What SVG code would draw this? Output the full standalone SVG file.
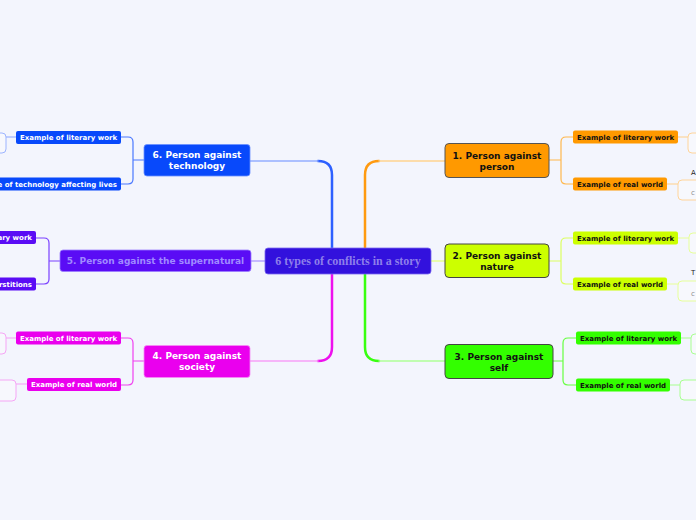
<svg xmlns="http://www.w3.org/2000/svg" width="696" height="520" viewBox="0 0 696 520">
<style>
.bg{fill:#f3f5fd}
.nt{font-family:"DejaVu Sans",Verdana,sans-serif;font-weight:bold;font-size:9px;text-anchor:middle}
.ct{font-family:"DejaVu Sans",Verdana,sans-serif;font-weight:bold;font-size:7px;text-anchor:middle}
.ce{font-family:"DejaVu Sans",Verdana,sans-serif;font-weight:bold;font-size:7px;text-anchor:end}
.gt{font-family:"DejaVu Sans",Verdana,sans-serif;font-size:7px}
.w{fill:#ffffff}
.k{fill:#111111}
.conn path{fill:none;stroke-linecap:round;stroke-linejoin:round}
.thick{stroke-width:2.5}
.thin{stroke-width:1.3}
.br{stroke-width:1.2}
.gb{fill:#f7f8fd;stroke-width:1}
</style>
<rect class="bg" x="0" y="0" width="696" height="520"/>

<g id="connectors" class="conn">
  <!-- central to main nodes -->
  <path class="thick" stroke="#2d60ff" d="M332,248 V175 Q332,161 318,161"/>
  <path class="thin" stroke="#95aeff" d="M318,161 H250"/>
  <path class="thick" stroke="#ff9a10" d="M365,248 V175 Q365,161 379,161"/>
  <path class="thin" stroke="#ffd390" d="M379,161 H445"/>
  <path class="thick" stroke="#ee10ee" d="M332,274 V347 Q332,361 318,361"/>
  <path class="thin" stroke="#f7a0f7" d="M318,361 H250"/>
  <path class="thick" stroke="#38ff10" d="M365,274 V347 Q365,361 379,361"/>
  <path class="thin" stroke="#b0ff98" d="M379,361 H445"/>
  <path class="thin" stroke="#e8ff90" d="M431,261 H445"/>
  <path class="thin" stroke="#b8a6ff" d="M265,261 H251"/>

  <!-- node 1 children -->
  <path class="br" stroke="#ffb84d" d="M549,160 H561 M573,137 H566 Q561,137 561,142 V179 Q561,184 566,184 H573"/>
  <path class="br" stroke="#ffcf8a" d="M678,137 H688 M667,184 H678"/>
  <!-- node 2 children -->
  <path class="br" stroke="#dcff60" d="M549,261 H561 M573,238 H566 Q561,238 561,243 V279 Q561,284 566,284 H573"/>
  <path class="br" stroke="#e8ff98" d="M678,238 H689 M667,284 H678"/>
  <!-- node 3 children -->
  <path class="br" stroke="#66ff40" d="M553,361 H563 M576,338 H568 Q563,338 563,343 V380 Q563,385 568,385 H576"/>
  <path class="br" stroke="#a8ff90" d="M681,338 H691 M670,385 H680"/>
  <!-- node 6 children -->
  <path class="br" stroke="#4a78ff" d="M144,160 H133 M121,137 H128 Q133,137 133,142 V179 Q133,184 128,184 H121"/>
  <path class="br" stroke="#8aa6ff" d="M16,137 H6"/>
  <!-- node 5 children -->
  <path class="br" stroke="#7a40ff" d="M60,261 H49 M36,238 H44 Q49,238 49,243 V279 Q49,284 44,284 H36"/>
  <!-- node 4 children -->
  <path class="br" stroke="#f040f0" d="M144,361 H133 M121,338 H128 Q133,338 133,343 V380 Q133,385 128,385 H121"/>
  <path class="br" stroke="#f5a0f5" d="M16,338 H6 M27,384 H16"/>
</g>

<g id="central">
  <rect x="265" y="248" width="166" height="26" rx="3" fill="#3211dd" stroke="#7a68f0" stroke-width="0.8"/>
  <text x="348" y="265" font-family="'Liberation Serif','Times New Roman',serif" font-weight="bold" font-size="12" fill="#8e7fea" text-anchor="middle">6 types of conflicts in a story</text>
</g>

<g id="node1">
  <rect x="445" y="143.5" width="104" height="34" rx="4" fill="#ff9900" stroke="#555555" stroke-width="1"/>
  <text class="nt k" x="497" y="158.5">1. Person against</text>
  <text class="nt k" x="497" y="169.5">person</text>
</g>
<g id="node1-lit">
  <rect x="573" y="130.5" width="105" height="13" rx="2" fill="#ff9900"/>
  <text class="ct k" x="625.5" y="139.5">Example of literary work</text>
</g>
<g id="node1-real">
  <rect x="573" y="177.5" width="94" height="13" rx="2" fill="#ff9900"/>
  <text class="ct k" x="620" y="186.5">Example of real world</text>
</g>
<g id="node1-lit-sub"><rect class="gb" x="688" y="133" width="30" height="20" rx="4" stroke="#ffd49a"/></g>
<g id="node1-real-sub">
  <text class="gt" x="691" y="175" fill="#222222">A</text>
  <rect class="gb" x="678" y="180" width="40" height="20" rx="4" stroke="#ffd49a"/>
  <text class="gt" x="691" y="195" fill="#888888">c</text>
</g>

<g id="node2">
  <rect x="445" y="244" width="104" height="33.5" rx="4" fill="#ccff00" stroke="#444444" stroke-width="1"/>
  <text class="nt k" x="497" y="259">2. Person against</text>
  <text class="nt k" x="497" y="270">nature</text>
</g>
<g id="node2-lit">
  <rect x="573" y="231.5" width="105" height="13" rx="2" fill="#ccff00"/>
  <text class="ct k" x="625.5" y="240.5">Example of literary work</text>
</g>
<g id="node2-real">
  <rect x="573" y="277.5" width="94" height="13" rx="2" fill="#ccff00"/>
  <text class="ct k" x="620" y="286.5">Example of real world</text>
</g>
<g id="node2-lit-sub"><rect class="gb" x="689" y="233" width="30" height="20" rx="4" stroke="#e6ff9a"/></g>
<g id="node2-real-sub">
  <text class="gt" x="691" y="275" fill="#222222">T</text>
  <rect class="gb" x="678" y="281" width="40" height="20" rx="4" stroke="#e6ff9a"/>
  <text class="gt" x="691" y="296" fill="#888888">c</text>
</g>

<g id="node3">
  <rect x="445" y="344.5" width="108" height="34" rx="4" fill="#33ff00" stroke="#444444" stroke-width="1"/>
  <text class="nt k" x="499" y="359.5">3. Person against</text>
  <text class="nt k" x="499" y="370.5">self</text>
</g>
<g id="node3-lit">
  <rect x="576" y="331.5" width="105" height="13" rx="2" fill="#33ff00"/>
  <text class="ct k" x="628.5" y="340.5">Example of literary work</text>
</g>
<g id="node3-real">
  <rect x="576" y="378.5" width="94" height="13" rx="2" fill="#33ff00"/>
  <text class="ct k" x="623" y="387.5">Example of real world</text>
</g>
<g id="node3-lit-sub"><rect class="gb" x="691" y="334" width="30" height="20" rx="4" stroke="#a8ff90"/></g>
<g id="node3-real-sub"><rect class="gb" x="680" y="380" width="40" height="20" rx="4" stroke="#a8ff90"/></g>

<g id="node6">
  <rect x="144" y="144.5" width="106" height="31.5" rx="3" fill="#0849fb" stroke="#6a90ff" stroke-width="0.8"/>
  <text class="nt w" x="197" y="158">6. Person against</text>
  <text class="nt w" x="197" y="169">technology</text>
</g>
<g id="node6-lit">
  <rect x="16" y="131" width="105" height="13" rx="2" fill="#0849fb"/>
  <text class="ct w" x="68.5" y="140">Example of literary work</text>
</g>
<g id="node6-tech">
  <rect x="-60" y="177.5" width="181" height="13" rx="2" fill="#0849fb"/>
  <text class="ce w" x="117" y="186.5">Example of technology affecting lives</text>
</g>
<g id="node6-lit-sub"><rect class="gb" x="-24" y="133" width="30" height="20" rx="4" stroke="#9cb4ff"/></g>

<g id="node5">
  <rect x="60" y="250" width="191" height="21.5" rx="3" fill="#5a0cf5" stroke="#9a7cff" stroke-width="0.8"/>
  <text class="nt" x="155.5" y="264.3" fill="#a08aff">5. Person against the supernatural</text>
</g>
<g id="node5-lit">
  <rect x="-80" y="231" width="116" height="13" rx="2" fill="#5a0cf5"/>
  <text class="ce w" x="32" y="240">Example of literary work</text>
</g>
<g id="node5-sup">
  <rect x="-80" y="277.5" width="116" height="13" rx="2" fill="#5a0cf5"/>
  <text class="ce w" x="32" y="286.5">Example of superstitions</text>
</g>

<g id="node4">
  <rect x="144" y="345.5" width="106" height="32" rx="3" fill="#ea00ee" stroke="#f58cf5" stroke-width="0.8"/>
  <text class="nt w" x="197" y="359">4. Person against</text>
  <text class="nt w" x="197" y="370">society</text>
</g>
<g id="node4-lit">
  <rect x="16" y="331.5" width="105" height="13" rx="2" fill="#ea00ee"/>
  <text class="ct w" x="68.5" y="340.5">Example of literary work</text>
</g>
<g id="node4-real">
  <rect x="27" y="378" width="94" height="13" rx="2" fill="#ea00ee"/>
  <text class="ct w" x="74" y="387">Example of real world</text>
</g>
<g id="node4-lit-sub"><rect class="gb" x="-24" y="333" width="30" height="21" rx="4" stroke="#f5a6f5"/></g>
<g id="node4-real-sub"><rect class="gb" x="-24" y="380" width="40" height="21" rx="4" stroke="#f5a6f5"/></g>
</svg>
